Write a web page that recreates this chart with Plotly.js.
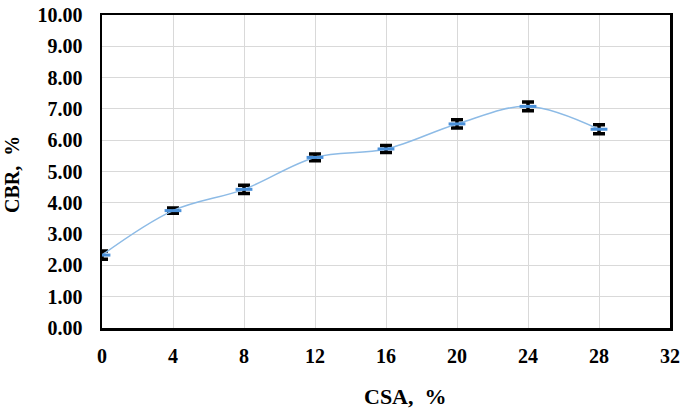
<!DOCTYPE html>
<html>
<head>
<meta charset="utf-8">
<script src="https://cdn.plot.ly/plotly-3.0.1.min.js"></script>
<style>html,body{margin:0;padding:0;background:#fff;}#chart{width:685px;height:416px;}</style>
</head>
<body>
<div id="chart"></div>
<script>
var csa = [0, 4, 8, 12, 16, 20, 24, 28];
var cbr = [2.33, 3.75, 4.43, 5.45, 5.72, 6.52, 7.08, 6.35];
var cbrErr = [0.13, 0.08, 0.13, 0.11, 0.11, 0.13, 0.14, 0.14];
var xTicks = [0, 4, 8, 12, 16, 20, 24, 28, 32];
var yTicks = [0, 1, 2, 3, 4, 5, 6, 7, 8, 9, 10];
var yTickText = yTicks.map(function(v){ return v.toFixed(2); });
var xTitle = 'CSA,\u00A0 %';
var yTitle = 'CBR,\u00A0 %';

var serif = "Liberation Serif, Times New Roman, serif";

var trace = {
  x: csa,
  y: cbr,
  type: 'scatter',
  mode: 'lines+markers',
  line: {shape: 'spline', smoothing: 1, color: '#8dbbe6', width: 1.5},
  marker: {symbol: 'line-ew', size: 12, line: {width: 3, color: '#4a90d9'}, color: '#4a90d9'},
  error_y: {type: 'data', array: cbrErr, visible: true, color: '#000000', thickness: 3.5, width: 6},
  cliponaxis: true,
  showlegend: false
};

var L = 102, R = 15, T = 15, B = 88, W = 685, H = 416;
var pw = W - L - R, ph = H - T - B;

var layout = {
  width: W,
  height: H,
  margin: {l: L, r: R, t: T, b: B},
  paper_bgcolor: '#ffffff',
  plot_bgcolor: '#ffffff',
  font: {family: serif, color: '#000000'},
  xaxis: {
    range: [0, 32],
    tickvals: xTicks,
    ticktext: xTicks.map(String),
    showgrid: true,
    gridcolor: '#d9d9d9',
    gridwidth: 1,
    showline: true,
    linecolor: '#000000',
    linewidth: 2.5,
    mirror: true,
    ticks: '',
    ticklabelstandoff: 8,
    tickfont: {family: serif, size: 20, color: '#000000', weight: 'bold'},
    zeroline: false,
    fixedrange: true
  },
  yaxis: {
    range: [0, 10],
    tickvals: yTicks,
    ticktext: yTickText,
    showgrid: true,
    gridcolor: '#d9d9d9',
    gridwidth: 1,
    showline: true,
    linecolor: '#000000',
    linewidth: 2.5,
    mirror: true,
    ticks: '',
    ticklabelstandoff: 13,
    tickfont: {family: serif, size: 20, color: '#000000', weight: 'bold'},
    zeroline: false,
    fixedrange: true
  },
  annotations: [
    {text: xTitle, xref: 'paper', yref: 'paper',
     x: (405 - L) / pw, xanchor: 'center',
     y: -(396 - (H - B)) / ph, yanchor: 'middle',
     showarrow: false, font: {family: serif, size: 22, color: '#000000', weight: 'bold'}},
    {text: yTitle, xref: 'paper', yref: 'paper',
     x: -(L - 12) / pw, xanchor: 'center',
     y: ((H - B) - 175) / ph, yanchor: 'middle',
     showarrow: false, textangle: -90,
     font: {family: serif, size: 20, color: '#000000', weight: 'bold'}}
  ]
};

Plotly.newPlot('chart', [trace], layout, {displayModeBar: false, staticPlot: true});
</script>
</body>
</html>
